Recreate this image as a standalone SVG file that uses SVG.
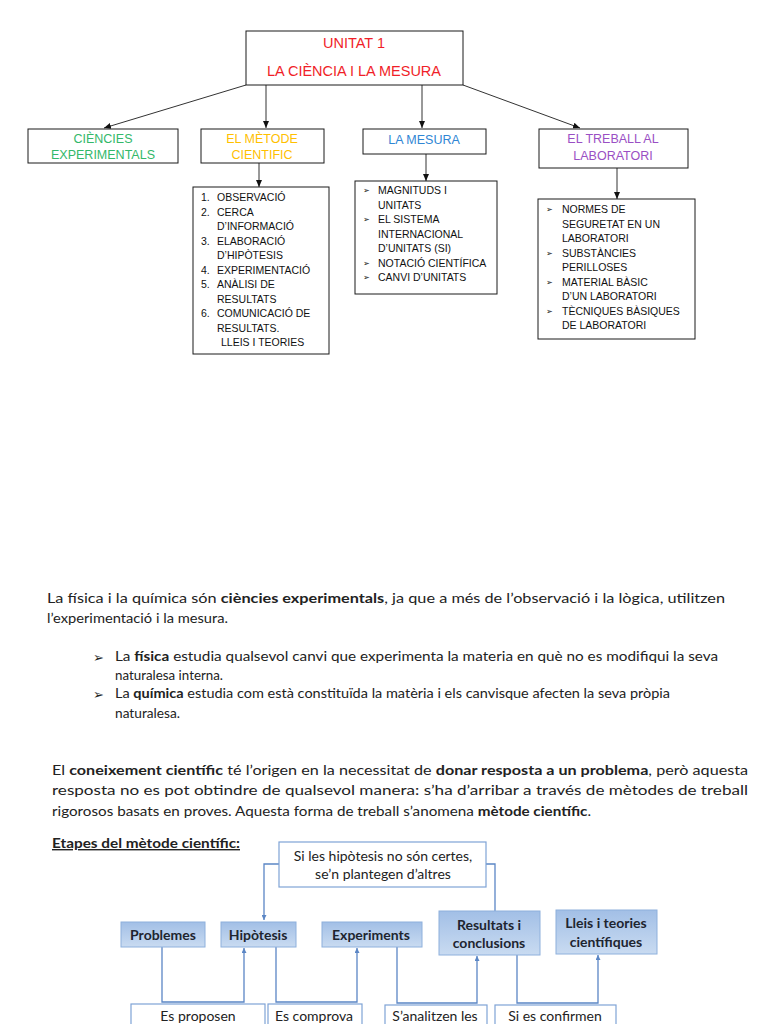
<svg xmlns="http://www.w3.org/2000/svg" width="768" height="1024" viewBox="0 0 768 1024">
<style>
.box{fill:#fff;stroke:#1a1a1a;stroke-width:1}
.ar{font-family:"Liberation Sans",Arial,sans-serif}
.t1{font-size:14.5px;fill:#f01e28;text-anchor:middle}
.t2{font-size:12.5px;text-anchor:middle}
.li{font-size:10.5px;fill:#111}
.bu{font-size:8px;fill:#111;font-family:"DejaVu Sans",sans-serif}
.pb{font-size:13px;fill:#222;font-family:"DejaVu Sans",sans-serif}
.con{stroke:#333;stroke-width:1;fill:none}
.cal{font-family:Lato,"Open Sans",sans-serif;font-size:14px;fill:#222}
.b{font-weight:bold}
.sm{fill:url(#g);stroke:#8eb0dc;stroke-width:1}
.wb{fill:#fff;stroke:#7fa3d6;stroke-width:1.2}
.st{font-family:Lato,"Open Sans",sans-serif;font-weight:bold;font-size:14px;fill:#1e2530;text-anchor:middle}
.nt{font-family:Lato,"Open Sans",sans-serif;font-size:14px;fill:#222;text-anchor:middle}
.bc{stroke:#5b86c5;stroke-width:1.3;fill:none}
</style>
<defs>
<marker id="ah" markerUnits="userSpaceOnUse" markerWidth="7" markerHeight="6" refX="7" refY="3" orient="auto"><path d="M0,0 L7,3 L0,6 z" fill="#111"/></marker>
<marker id="bh" markerUnits="userSpaceOnUse" markerWidth="5" markerHeight="5" refX="5" refY="2.5" orient="auto"><path d="M0,0 L5,2.5 L0,5 z" fill="#5b86c5"/></marker>
<linearGradient id="g" x1="0" y1="0" x2="0" y2="1"><stop offset="0" stop-color="#a2bfe6"/><stop offset="1" stop-color="#c9dbf1"/></linearGradient>
</defs>

<g id="connectors">
<path class="con" d="M246,85 L104,128" marker-end="url(#ah)"/>
<path class="con" d="M266,85 L266,128" marker-end="url(#ah)"/>
<path class="con" d="M422,85 L422,128" marker-end="url(#ah)"/>
<path class="con" d="M463,85 L580,128" marker-end="url(#ah)"/>
<path class="con" d="M259,163 L259,187" marker-end="url(#ah)"/>
<path class="con" d="M426,154 L426,181" marker-end="url(#ah)"/>
<path class="con" d="M617,168 L617,199" marker-end="url(#ah)"/>
</g>

<g id="unitat">
<rect class="box" x="246" y="31" width="217" height="54"/>
<text class="ar t1" x="354" y="48">UNITAT 1</text>
<text class="ar t1" x="354" y="76">LA CIÈNCIA I LA MESURA</text>
</g>
<g id="ciencies">
<rect class="box" x="28" y="129" width="150" height="34"/>
<text class="ar t2" x="103" y="143" fill="#33b86a">CIÈNCIES</text>
<text class="ar t2" x="103" y="159" fill="#33b86a">EXPERIMENTALS</text>
</g>
<g id="metode">
<rect class="box" x="201" y="129" width="123" height="34"/>
<text class="ar t2" x="262" y="143" fill="#ffc000">EL MÈTODE</text>
<text class="ar t2" x="262" y="159" fill="#ffc000">CIENTIFIC</text>
</g>
<g id="mesura">
<rect class="box" x="363" y="129" width="123" height="25"/>
<text class="ar t2" x="424" y="144" fill="#2f86d4">LA MESURA</text>
</g>
<g id="treball">
<rect class="box" x="539" y="129" width="149" height="39"/>
<text class="ar t2" x="613" y="143" fill="#9a4fc4">EL TREBALL AL</text>
<text class="ar t2" x="613" y="160" fill="#9a4fc4">LABORATORI</text>
</g>

<g id="llista-metode">
<rect class="box" x="193" y="187" width="136" height="167"/>
<text class="ar li" x="201" y="201">1.</text><text class="ar li" x="217" y="201">OBSERVACIÓ</text>
<text class="ar li" x="201" y="215.5">2.</text><text class="ar li" x="217" y="215.5">CERCA</text>
<text class="ar li" x="217" y="230">D’INFORMACIÓ</text>
<text class="ar li" x="201" y="244.5">3.</text><text class="ar li" x="217" y="244.5">ELABORACIÓ</text>
<text class="ar li" x="217" y="259">D’HIPÒTESIS</text>
<text class="ar li" x="201" y="273.5">4.</text><text class="ar li" x="217" y="273.5">EXPERIMENTACIÓ</text>
<text class="ar li" x="201" y="288">5.</text><text class="ar li" x="217" y="288">ANÀLISI DE</text>
<text class="ar li" x="217" y="302.5">RESULTATS</text>
<text class="ar li" x="201" y="317">6.</text><text class="ar li" x="217" y="317">COMUNICACIÓ DE</text>
<text class="ar li" x="217" y="331.5">RESULTATS.</text>
<text class="ar li" x="221" y="346">LLEIS I TEORIES</text>
</g>

<g id="llista-mesura">
<rect class="box" x="355" y="181" width="142" height="113"/>
<text class="bu" x="363" y="193">➢</text><text class="ar li" x="378" y="194">MAGNITUDS I</text>
<text class="ar li" x="378" y="208.5">UNITATS</text>
<text class="bu" x="363" y="222">➢</text><text class="ar li" x="378" y="223">EL SISTEMA</text>
<text class="ar li" x="378" y="237.5">INTERNACIONAL</text>
<text class="ar li" x="378" y="252">D’UNITATS (SI)</text>
<text class="bu" x="363" y="265.5">➢</text><text class="ar li" x="378" y="266.5">NOTACIÓ CIENTÍFICA</text>
<text class="bu" x="363" y="280">➢</text><text class="ar li" x="378" y="281">CANVI D’UNITATS</text>
</g>

<g id="llista-laboratori">
<rect class="box" x="538" y="199" width="157" height="140"/>
<text class="bu" x="546" y="212">➢</text><text class="ar li" x="562" y="213">NORMES DE</text>
<text class="ar li" x="562" y="227.5">SEGURETAT EN UN</text>
<text class="ar li" x="562" y="242">LABORATORI</text>
<text class="bu" x="546" y="255.5">➢</text><text class="ar li" x="562" y="256.5">SUBSTÀNCIES</text>
<text class="ar li" x="562" y="271">PERILLOSES</text>
<text class="bu" x="546" y="284.5">➢</text><text class="ar li" x="562" y="285.5">MATERIAL BÀSIC</text>
<text class="ar li" x="562" y="300">D’UN LABORATORI</text>
<text class="bu" x="546" y="313.5">➢</text><text class="ar li" x="562" y="314.5">TÈCNIQUES BÀSIQUES</text>
<text class="ar li" x="562" y="329">DE LABORATORI</text>
</g>

<g id="text-fisica">
<text class="cal" x="47" y="603" textLength="678" lengthAdjust="spacingAndGlyphs">La física i la química són <tspan class="b">ciències experimentals</tspan>, ja que a més de l’observació i la lògica, utilitzen</text>
<text class="cal" x="47" y="623" textLength="181" lengthAdjust="spacingAndGlyphs">l’experimentació i la mesura.</text>
<text class="pb" x="93" y="662">➢</text>
<text class="cal" x="115" y="661" textLength="603" lengthAdjust="spacingAndGlyphs">La <tspan class="b">física</tspan> estudia qualsevol  canvi que experimenta la materia en què no es modifiqui la seva</text>
<text class="cal" x="115" y="680" textLength="108" lengthAdjust="spacingAndGlyphs">naturalesa interna.</text>
<text class="pb" x="93" y="699">➢</text>
<text class="cal" x="115" y="698" textLength="555" lengthAdjust="spacingAndGlyphs">La <tspan class="b">química</tspan> estudia com està constituïda la matèria i els canvisque afecten la seva pròpia</text>
<text class="cal" x="115" y="718" textLength="65" lengthAdjust="spacingAndGlyphs">naturalesa.</text>
</g>

<g id="text-coneixement">
<text class="cal" x="52" y="775" textLength="696" lengthAdjust="spacingAndGlyphs">El <tspan class="b">coneixement científic</tspan> té l’origen en la necessitat de <tspan class="b">donar resposta a un problema</tspan>, però aquesta</text>
<text class="cal" x="52" y="795" textLength="696" lengthAdjust="spacingAndGlyphs">resposta no es pot obtindre de qualsevol manera: s’ha d’arribar a través de mètodes de treball</text>
<text class="cal" x="52" y="816" textLength="539" lengthAdjust="spacingAndGlyphs">rigorosos basats en proves. Aquesta forma de treball s’anomena <tspan class="b">mètode científic</tspan>.</text>
<text class="cal b" x="52" y="848" textLength="188" lengthAdjust="spacingAndGlyphs" text-decoration="underline">Etapes del mètode científic:</text>
</g>

<g id="etapes-connectors">
<path class="bc" d="M279,864 L264,864 L264,920" marker-end="url(#bh)"/>
<path class="bc" d="M486,864 L495,864 L495,911"/>
<path class="bc" d="M162,947 L162,1002 L244,1002 L244,948" marker-end="url(#bh)"/>
<path class="bc" d="M276,947 L276,1002 L357,1002 L357,948" marker-end="url(#bh)"/>
<path class="bc" d="M397,947 L397,1003 L477,1003 L477,956" marker-end="url(#bh)"/>
<path class="bc" d="M517,955 L517,1003 L598,1003 L598,955" marker-end="url(#bh)"/>
</g>

<g id="hipotesis-falses">
<rect class="wb" x="279" y="842" width="207" height="45"/>
<text class="nt" x="383" y="861" font-size="14.5">Si les hipòtesis no són certes,</text>
<text class="nt" x="383" y="879" font-size="14.5">se’n plantegen d’altres</text>
</g>
<g id="problemes">
<rect class="sm" x="121" y="922" width="84" height="25"/>
<text class="st" x="163" y="940">Problemes</text>
</g>
<g id="hipotesis">
<rect class="sm" x="221" y="922" width="75" height="25"/>
<text class="st" x="258" y="940">Hipòtesis</text>
</g>
<g id="experiments">
<rect class="sm" x="322" y="922" width="100" height="25"/>
<text class="st" x="371" y="940">Experiments</text>
</g>
<g id="resultats">
<rect class="sm" x="439" y="911" width="101" height="44"/>
<text class="st" x="489" y="930">Resultats i</text>
<text class="st" x="489" y="948">conclusions</text>
</g>
<g id="lleis">
<rect class="sm" x="556" y="910" width="101" height="44"/>
<text class="st" x="606" y="928">Lleis i teories</text>
<text class="st" x="606" y="947">científiques</text>
</g>
<g id="es-proposen">
<rect class="wb" x="131" y="1004" width="134" height="40"/>
<text class="nt" x="198" y="1021">Es proposen</text>
</g>
<g id="es-comprova">
<rect class="wb" x="268" y="1004" width="94" height="40"/>
<text class="nt" x="314" y="1021">Es comprova</text>
</g>
<g id="analitzen">
<rect class="wb" x="385" y="1005" width="102" height="40"/>
<text class="nt" x="435" y="1021">S’analitzen les</text>
</g>
<g id="confirmen">
<rect class="wb" x="495" y="1005" width="121" height="40"/>
<text class="nt" x="555" y="1021">Si es confirmen</text>
</g>
</svg>
